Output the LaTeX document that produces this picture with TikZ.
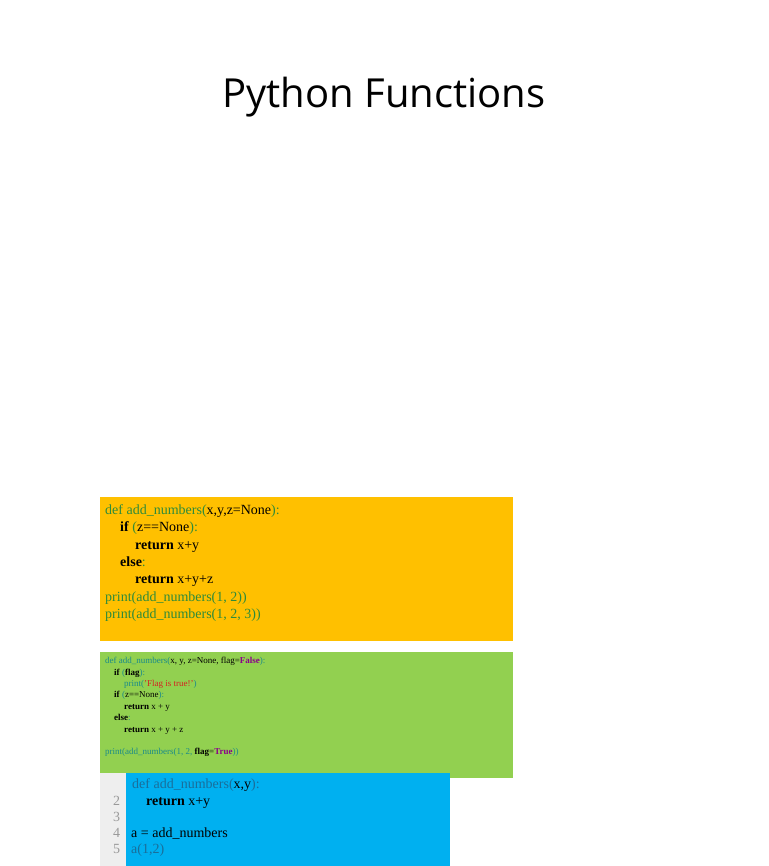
\documentclass[tikz,border=0pt]{standalone}
\usepackage{fontspec}
\setmainfont{Liberation Serif}
\newfontfamily\titlefont{Open Sans}
\definecolor{orng}{HTML}{FFC000}
\definecolor{grn}{HTML}{92D050}
\definecolor{blu}{HTML}{00B0F0}
\definecolor{gry}{HTML}{EEEEEE}
\definecolor{kw}{HTML}{2E8B3A}
\definecolor{tl}{HTML}{1A8A8A}
\definecolor{pur}{HTML}{8B008B}
\definecolor{str}{HTML}{D62020}
\definecolor{ln}{HTML}{999999}
\definecolor{bt}{HTML}{1A6E9A}
\begin{document}
\begin{tikzpicture}[x=1pt,y=-1pt,
  big/.style={anchor=base west,inner sep=0pt,font=\fontsize{14}{14}\selectfont},
  small/.style={anchor=base west,inner sep=0pt,font=\fontsize{9}{9}\selectfont}]
\useasboundingbox (0,0) rectangle (768,866);
\fill[white] (0,0) rectangle (768,866);
\node[inner sep=0pt,font=\titlefont\fontsize{40}{40}\selectfont] (title) at (384,97) {Python Functions};
\fill[orng] (100,497) rectangle (513,641);
\fill[grn] (100,652) rectangle (513,778);
\fill[gry] (100,773) rectangle (126,866);
\fill[blu] (126,773) rectangle (450,866);
% orange
\node[big] (o1) at (105,514) {\color{kw}def add\_numbers(\color{black}x,y,z=None\color{kw}):};
\node[big] (o2) at (120,531) {\textbf{if} \color{kw}(\color{black}z==None\color{kw}):};
\node[big] (o3) at (135,549) {\textbf{return} x+y};
\node[big] (o4) at (120,566) {\textbf{else}\color{kw}:};
\node[big] (o5) at (135,583) {\textbf{return} x+y+z};
\node[big] (o6) at (105,601) {\color{kw}print(add\_numbers(1, 2))};
\node[big] (o7) at (105,618) {\color{kw}print(add\_numbers(1, 2, 3))};
% green
\node[small] (g1) at (105,663) {\color{tl}def add\_numbers(\color{black}x, y, z=None, flag=\textbf{\color{pur}False}\color{tl}):};
\node[small] (g2) at (114,675) {\textbf{if} \color{tl}(\color{black}\textbf{flag}\color{tl}):};
\node[small] (g3) at (124,686) {\color{tl}print(\color{str}'Flag is true!'\color{tl})};
\node[small] (g4) at (114,697) {\textbf{if} \color{tl}(\color{black}z==None\color{tl}):};
\node[small] (g5) at (124,709) {\textbf{return} x + y};
\node[small] (g6) at (114,720) {\textbf{else}\color{tl}:};
\node[small] (g7) at (124,732) {\textbf{return} x + y + z};
\node[small] (g8) at (105,754) {\color{tl}print(add\_numbers(1, 2, \color{black}\textbf{flag}=\textbf{\color{pur}True}\color{tl}))};
% blue
\node[big] (b1) at (132,788) {\color{bt}def add\_numbers(\color{black}x,y\color{bt}):};
\node[big] (b2) at (146,805) {\textbf{return} x+y};
\node[big] (b4) at (131,837) {a = add\_numbers};
\node[big] (b5) at (131,853) {\color{bt}a(1,2)};
\node[big,text=ln] (n2) at (113,805) {2};
\node[big,text=ln] (n3) at (113,821) {3};
\node[big,text=ln] (n4) at (113,837) {4};
\node[big,text=ln] (n5) at (113,853) {5};
\end{tikzpicture}
\end{document}
